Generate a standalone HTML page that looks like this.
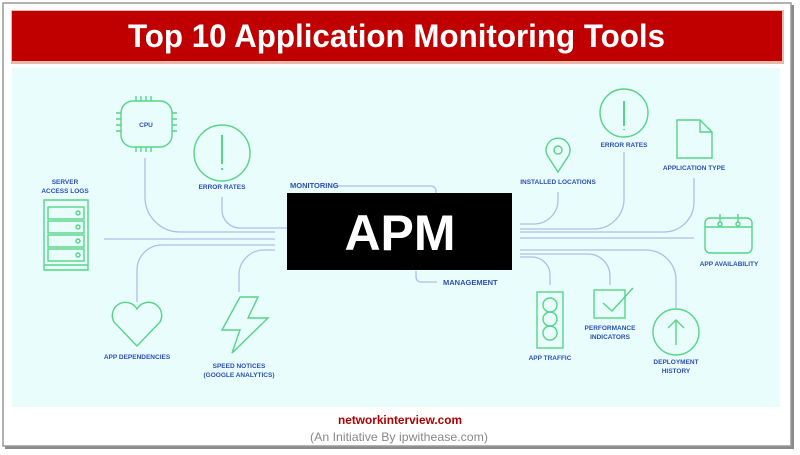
<!DOCTYPE html>
<html><head><meta charset="utf-8"><style>
html,body{margin:0;padding:0;background:#fff;width:800px;height:455px;overflow:hidden}
</style></head><body>
<svg width="800" height="455" viewBox="0 0 800 455" xmlns="http://www.w3.org/2000/svg" font-family="Liberation Sans, sans-serif">
<rect x="0" y="0" width="800" height="455" fill="#fff"/>
<rect x="5" y="5" width="789" height="444" fill="#8a8a8a"/>
<rect x="3" y="3" width="788" height="443" fill="#fff" stroke="#999" stroke-width="1.5"/>
<rect x="11" y="10" width="773" height="54" fill="#e8b8a8"/>
<rect x="12" y="11" width="770" height="50" fill="#c00000"/>
<text x="128" y="47" textLength="537" lengthAdjust="spacingAndGlyphs" font-size="32" font-weight="bold" fill="#fff">Top 10 Application Monitoring Tools</text>
<rect x="12" y="68" width="768" height="339" fill="#e9fdfd"/>
<g fill="none" stroke="#b0bfe6" stroke-width="1.3">
<path d="M104 239H275"/>
<path d="M145 158V197a35 35 0 0 0 35 35H275"/>
<path d="M202 197V210a18 18 0 0 0 18 18H275" transform="translate(20 0)"/>
<path d="M137 302V270a25 25 0 0 1 25 -25H275"/>
<path d="M239 292V275a25 25 0 0 1 25 -25H275"/>
<path d="M333 186H431a5 5 0 0 1 5 5V193"/>
<path d="M416 271V277a5 5 0 0 0 5 5H437"/>
<path d="M520 238H694"/>
<path d="M558 192V200a24 24 0 0 1 -24 24H520"/>
<path d="M624 152V199a30 30 0 0 1 -30 30H520"/>
<path d="M694 178V202a30 30 0 0 1 -30 30H520"/>
<path d="M676 308V280a30 30 0 0 0 -30 -30H520"/>
<path d="M610 285V276a22 22 0 0 0 -22 -22H520"/>
<path d="M550 285V275a18 18 0 0 0 -18 -18H520"/>
</g>
<g fill="none" stroke="#55d585" stroke-width="1.4">
<rect x="121" y="101" width="51" height="46" rx="12"/>
<path d="M136 96v5M141 96v5M146 96v5M151 96v5M136 147v5M141 147v5M146 147v5M151 147v5M116 113h5M116 119h5M116 125h5M116 131h5M172 113h5M172 119h5M172 125h5M172 131h5"/>
<circle cx="222" cy="153" r="28"/>
<path d="M222 135V164M222 168v2" stroke-width="2"/>
<path d="M44 200h44v65H44z M44 270h44v-5H44z"/>
<rect x="48" y="207" width="36" height="12"/><rect x="48" y="221" width="36" height="12"/><rect x="48" y="235" width="36" height="12"/><rect x="48" y="249" width="36" height="12"/>
<circle cx="78" cy="213" r="2"/><circle cx="78" cy="227" r="2"/><circle cx="78" cy="241" r="2"/><circle cx="78" cy="255" r="2"/>
<path d="M137 346 L114 322 A12 12 0 0 1 137 309 A12 12 0 0 1 160 322 Z"/>
<path d="M240 297 L222 330 H240 L232 353 L268 318 H248 L258 297 Z"/>
<path d="M558 172 L547 155 A12 12 0 1 1 569 155 Z"/><circle cx="558" cy="150" r="4"/>
<circle cx="624" cy="113" r="24"/><path d="M624 101V126M624 129v1" stroke-width="2"/>
<path d="M677 120H700L712 132V158H677Z M700 120V132H712"/>
<rect x="705" y="218" width="47" height="35" rx="5"/><path d="M705 227H752"/><circle cx="720" cy="224" r="2"/><circle cx="738" cy="224" r="2"/><path d="M720 214v8M738 214v8"/>
<rect x="537" y="292" width="26" height="56"/><circle cx="550" cy="305" r="7"/><circle cx="550" cy="319" r="7"/><circle cx="550" cy="333" r="7"/>
<rect x="594" y="290" width="31" height="28"/><path d="M603 303L612 311L633 288"/>
<circle cx="676" cy="332" r="23"/><path d="M676 345V320M668 328L676 320L684 328"/>
</g>
<g fill="#2d4fb3" font-size="6.5" text-anchor="middle" font-weight="bold">
<text x="146" y="127">CPU</text>
<text x="222" y="189">ERROR RATES</text>
<text x="65" y="184">SERVER</text><text x="65" y="193">ACCESS LOGS</text>
<text x="137" y="359">APP DEPENDENCIES</text>
<text x="239" y="368">SPEED NOTICES</text><text x="239" y="377">(GOOGLE ANALYTICS)</text>
<text x="558" y="184">INSTALLED LOCATIONS</text>
<text x="624" y="147">ERROR RATES</text>
<text x="694" y="170">APPLICATION TYPE</text>
<text x="729" y="266">APP AVAILABILITY</text>
<text x="550" y="360">APP TRAFFIC</text>
<text x="610" y="330">PERFORMANCE</text><text x="610" y="339">INDICATORS</text>
<text x="676" y="364">DEPLOYMENT</text><text x="676" y="373">HISTORY</text>
<text x="290" y="188" text-anchor="start" font-size="7.5">MONITORING</text>
<text x="443" y="285" text-anchor="start" font-size="7.5">MANAGEMENT</text>
</g>
<rect x="287" y="193" width="225" height="77" fill="#000"/>
<text x="400" y="250" text-anchor="middle" font-size="50" font-weight="bold" fill="#fff">APM</text>
<text x="338" y="424" textLength="124" lengthAdjust="spacingAndGlyphs" font-size="12" font-weight="bold" fill="#b00000">networkinterview.com</text>
<text x="310" y="441" textLength="178" lengthAdjust="spacingAndGlyphs" font-size="12" fill="#888">(An Initiative By ipwithease.com)</text>
</svg>
</body></html>
